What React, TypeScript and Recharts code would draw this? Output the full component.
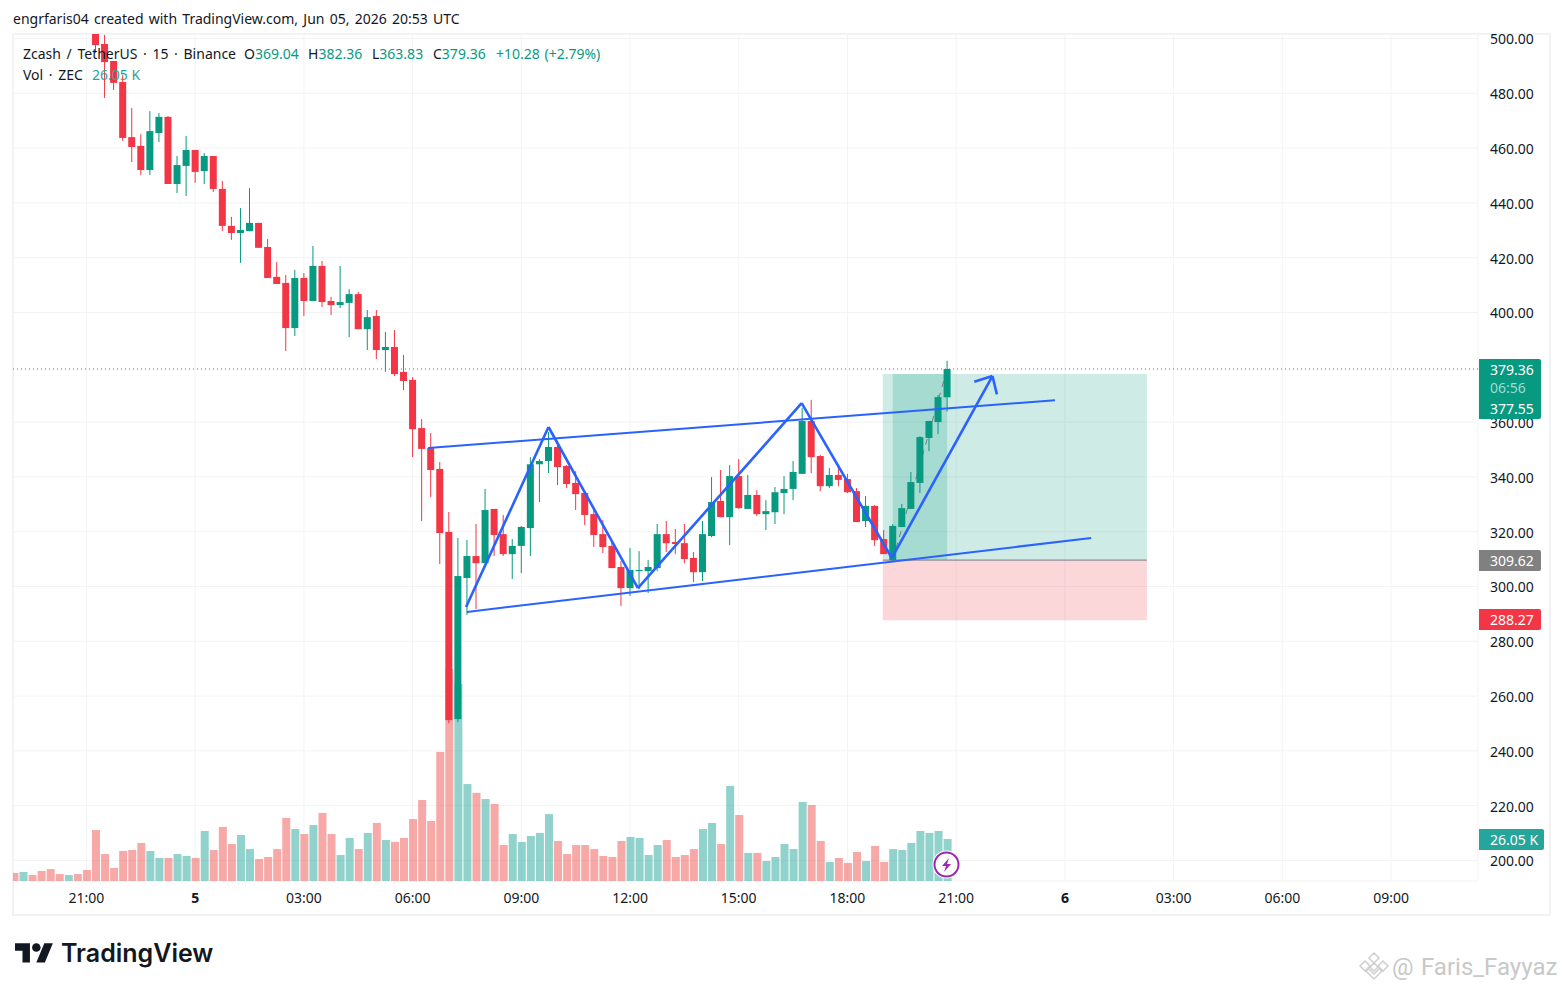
import React from 'react';
import {
  ComposedChart,
  Bar,
  XAxis,
  YAxis,
  CartesianGrid,
  ReferenceLine,
  ReferenceArea,
} from 'recharts';

const UP = '#089981';
const DOWN = '#F23645';
const BLUE = '#2962FF';
const FONT = '"Noto Sans", sans-serif';

// candles start at bar 1, bars -8..0 sit above the visible pane
const opens = [
  503.1, 498.0, 491.8, 484.1, 464.0, 460.8, 452.0, 465.5, 471.4, 446.9, 453.5, 459.3, 451.6, 457.1, 445.1, 431.6,
  429.0, 429.7, 432.7, 423.9, 413.0, 410.8, 394.3, 412.6, 404.2, 417.0, 404.2, 402.7, 403.5, 406.7, 393.9, 398.7,
  386.3, 387.4, 378.3, 375.4, 357.8, 350.5, 342.9, 319.9, 251.6, 303.1, 311.1, 308.5, 328.3, 319.1, 311.8, 314.8,
  321.3, 344.6, 345.8, 350.9, 344.0, 337.8, 334.1, 326.4, 319.1, 314.8, 307.1, 299.4, 305.6, 305.6, 306.7, 319.1,
  316.2, 315.8, 310.4, 305.2, 318.4, 331.2, 325.3, 340.3, 328.3, 333.4, 326.4, 327.1, 334.1, 335.6, 341.1, 360.4,
  347.6, 336.6, 340.7, 339.2, 334.8, 323.9, 329.4, 317.3, 309.6, 321.7, 328.3, 337.8, 354.2, 360.0, 369.04,
];
const highs = [
  510.0, 501.3, 491.8, 486.7, 474.6, 465.1, 473.5, 472.8, 471.7, 457.1, 464.4, 459.3, 458.2, 457.1, 448.0, 434.9,
  438.1, 445.4, 432.7, 426.8, 418.4, 413.7, 415.5, 414.4, 424.3, 418.8, 405.7, 417.0, 408.5, 407.5, 400.9, 400.9,
  392.9, 393.6, 384.5, 376.4, 361.1, 356.0, 345.4, 327.2, 317.7, 317.0, 322.8, 335.6, 328.3, 326.1, 317.3, 322.1,
  347.2, 346.5, 356.4, 353.1, 344.3, 342.1, 334.1, 327.9, 324.3, 316.2, 309.3, 314.1, 312.9, 309.7, 322.8, 323.9,
  321.0, 322.8, 312.6, 323.9, 339.9, 342.5, 344.3, 346.5, 340.7, 335.2, 331.5, 336.3, 340.3, 345.8, 365.1, 368.1,
  348.0, 343.2, 344.0, 341.1, 335.9, 333.0, 329.7, 320.6, 322.8, 330.1, 341.8, 354.9, 360.4, 369.9, 382.36,
];
const lows = [
  494.7, 478.3, 481.2, 462.6, 454.9, 450.2, 450.2, 462.2, 446.9, 443.6, 442.5, 447.3, 446.9, 444.0, 429.7, 426.5,
  418.1, 429.7, 423.6, 412.6, 410.4, 385.9, 391.4, 398.7, 404.2, 402.0, 399.1, 401.6, 391.0, 393.9, 386.3, 383.0,
  378.3, 376.8, 371.7, 347.2, 323.9, 332.6, 308.2, 250.1, 250.5, 289.6, 291.8, 308.5, 311.1, 311.1, 302.7, 304.9,
  311.1, 330.8, 341.4, 337.0, 335.9, 327.9, 322.4, 314.4, 312.2, 306.7, 292.9, 296.5, 299.0, 297.6, 305.6, 312.6,
  311.8, 308.5, 301.6, 302.0, 318.0, 325.3, 315.1, 328.3, 328.3, 325.7, 320.6, 322.8, 326.4, 331.5, 341.1, 341.4,
  334.8, 335.9, 336.6, 334.1, 323.5, 321.7, 314.8, 311.8, 308.9, 321.7, 328.3, 334.1, 349.4, 355.6, 363.83,
];
const closes = [
  497.6, 491.4, 483.8, 463.7, 460.4, 452.0, 466.2, 471.4, 446.9, 453.8, 459.3, 451.3, 457.1, 445.1, 431.6, 429.0,
  430.1, 432.7, 423.6, 412.6, 410.4, 394.3, 412.6, 404.2, 417.0, 403.8, 402.7, 403.8, 406.7, 393.9, 398.3, 386.3,
  387.4, 377.5, 375.0, 357.4, 350.2, 342.5, 319.5, 251.2, 303.8, 311.1, 308.5, 327.9, 318.8, 311.8, 314.8, 321.7,
  344.6, 345.8, 350.9, 343.6, 337.4, 333.7, 326.1, 318.8, 314.4, 306.7, 299.4, 306.0, 306.0, 307.1, 319.1, 315.8,
  315.5, 310.0, 305.2, 319.1, 330.8, 325.3, 340.3, 328.6, 333.4, 326.4, 327.5, 334.4, 335.6, 341.8, 360.4, 347.2,
  336.6, 340.7, 338.9, 334.4, 323.5, 329.4, 316.9, 311.8, 322.1, 328.6, 338.1, 354.5, 360.4, 369.1, 379.36,
];

// volume in thousands, bars -8..95
const volumes = [
  5.0, 5.6, 3.7, 6.2, 7.4, 4.3, 3.7, 4.3, 6.8,
  31.6, 16.7, 8.1, 18.6, 19.2, 23.6, 18.6, 14.3, 14.3, 16.7, 15.5, 14.3, 31.0, 19.2, 33.5, 22.9,
  28.5, 19.8, 13.6, 14.9, 19.8, 39.1, 32.2, 29.1, 34.7, 42.2, 29.1, 16.1, 26.7, 19.8, 29.8, 36.0,
  25.4, 24.2, 26.7, 38.4, 50.2, 37.2, 80.0, 131.4, 122.1, 60.1, 54.6, 50.8, 47.7, 22.3, 29.1, 24.2,
  27.9, 29.8, 41.5, 24.8, 16.7, 22.3, 22.3, 19.8, 15.5, 14.9, 24.8, 27.3, 26.7, 16.1, 22.3, 25.4,
  14.9, 16.1, 19.8, 32.2, 36.0, 22.9, 58.9, 40.9, 17.4, 17.4, 12.4, 14.9, 22.9, 19.8, 49.0, 47.1,
  24.8, 11.8, 14.3, 11.2, 18.0, 12.4, 21.7, 11.8, 19.8, 19.2, 23.6, 31.0, 29.8, 31.0, 26.05,
];
const hiddenBarsUp = [false, true, false, false, false, false, true, false, false];

const priceTicks = [200, 220, 240, 260, 280, 300, 320, 340, 360, 400, 420, 440, 460, 480, 500];
const timeTicks = [0, 12, 24, 36, 48, 60, 72, 84, 96, 108, 120, 132, 144];
const timeLabels = ['21:00', '5', '03:00', '06:00', '09:00', '12:00', '15:00', '18:00', '21:00', '6', '03:00', '06:00', '09:00'];

// drawings, bar number and price
const zigzagBars = [41.9, 51, 60.87, 78.94, 88.9, 100];
const zigzagPrices = [292.5, 358.2, 299.4, 366.9, 310.4, 376.8];
const arrowBars = [98, 100.5];
const arrowPrices = [374.7, 370.1];
const upperChannel = [[37.7, 350.5], [106.9, 368.0]];
const lowerChannel = [[42, 290.7], [110.9, 317.7]];
const lastClose = 379.36;
const target = 377.55;
const entry = 309.62;
const stopEdge = 287.7;

const timeDomain = [-8.11, 153.6];
const priceDomain = [192.5, 501.64];

const rows = volumes.map((volume, i) => {
  const bar = i - 8;
  const c = bar - 1;
  const hasCandle = c >= 0;
  return {
    bar,
    volume,
    open: hasCandle ? opens[c] : null,
    close: hasCandle ? closes[c] : null,
    high: hasCandle ? highs[c] : null,
    low: hasCandle ? lows[c] : null,
    range: hasCandle ? [lows[c], highs[c]] : null,
    up: hasCandle ? closes[c] >= opens[c] : hiddenBarsUp[i],
  };
});

const Candle = (props: any) => {
  const { x, y, width, height, payload } = props;
  if (!payload || payload.high == null) return null;
  const perUnit = height / (payload.high - payload.low);
  const top = y + (payload.high - Math.max(payload.open, payload.close)) * perUnit;
  const bodyH = Math.max(1, Math.abs(payload.open - payload.close) * perUnit);
  const color = payload.up ? UP : DOWN;
  const mid = x + width / 2;
  return (
    <g>
      <rect x={mid - 0.5} y={y} width={1} height={height} fill={color} />
      <rect x={mid - 3.5} y={top} width={7} height={bodyH} fill={color} />
    </g>
  );
};

const VolumeBar = (props: any) => {
  const { x, y, width, height, payload } = props;
  return (
    <rect
      x={x}
      y={y}
      width={width}
      height={height}
      fill={payload.up ? 'rgba(38,166,154,0.5)' : 'rgba(239,83,80,0.5)'}
    />
  );
};

const TimeTick = (props: any) => {
  const { x, y, payload } = props;
  const label = timeLabels[timeTicks.indexOf(payload.value)];
  const day = label.length === 1;
  return (
    <text x={x} y={y} dy={4} textAnchor="middle" fontFamily={FONT} fontSize={14} fontWeight={day ? 700 : 400} fill="#131722">
      {label}
    </text>
  );
};

const Txt = ({ x, y, color = '#131722', size = 14, children, style }: any) => (
  <div
    style={{
      position: 'absolute',
      left: x,
      top: y,
      color,
      fontSize: size,
      lineHeight: '20px',
      whiteSpace: 'nowrap',
      fontFamily: FONT,
      ...style,
    }}
  >
    {children}
  </div>
);

const Tag = ({ top, height = 21, width = 62, bg, children }: any) => (
  <div
    style={{
      position: 'absolute',
      left: 1479,
      top,
      width,
      height,
      background: bg,
      color: '#fff',
      fontFamily: FONT,
      fontSize: 14,
      lineHeight: height + 'px',
      paddingLeft: 11,
      boxSizing: 'border-box',
      borderRadius: '0 2px 2px 0',
    }}
  >
    {children}
  </div>
);

const layer = { position: 'absolute', left: 0, top: 0 } as const;

const App = () => {
  return (
    <div style={{ position: 'absolute', left: 0, top: 0, width: 1563, height: 991, background: '#fff', overflow: 'hidden' }}>
      <div style={{ position: 'absolute', left: 12, top: 33, width: 1535, height: 879, border: '2px solid #f1f2f4' }} />

      {/* back layer: axes, grid, position zones, volume */}
      <div style={layer}>
        <ComposedChart width={1563} height={991} data={rows} margin={{ top: 34, right: 13, left: 13, bottom: 76 }}>
          <CartesianGrid stroke="#f2f3f4" xAxisId="time" yAxisId="price" />
          <XAxis
            xAxisId="time"
            dataKey="bar"
            type="number"
            scale="linear"
            domain={timeDomain}
            allowDataOverflow
            ticks={timeTicks}
            interval={0}
            height={34}
            axisLine={false}
            tickLine={false}
            tickMargin={12}
            tick={<TimeTick />}
          />
          <YAxis
            yAxisId="price"
            orientation="right"
            type="number"
            domain={priceDomain}
            allowDataOverflow
            ticks={priceTicks}
            interval={0}
            width={72}
            axisLine={false}
            tickLine={false}
            tickSize={0}
            tickMargin={12}
            tickFormatter={(v: number) => v.toFixed(2)}
            tick={{ fontFamily: FONT, fontSize: 14, fill: '#131722', textAnchor: 'start', dy: 1 }}
          />
          <YAxis yAxisId="vol" hide domain={[0, 525]} />

          <ReferenceArea xAxisId="time" yAxisId="price" x1={87.9} x2={117.05} y1={entry} y2={target} fill={UP} fillOpacity={0.2} stroke="none" />
          <ReferenceArea xAxisId="time" yAxisId="price" x1={87.9} x2={117.05} y1={stopEdge} y2={entry} fill={DOWN} fillOpacity={0.2} stroke="none" />
          <ReferenceArea xAxisId="time" yAxisId="price" x1={89} x2={95} y1={entry} y2={target} fill={UP} fillOpacity={0.2} stroke="none" />
          <ReferenceLine
            xAxisId="time"
            yAxisId="price"
            segment={[{ x: 87.9, y: entry }, { x: 117.05, y: entry }]}
            stroke="#787B86"
            strokeWidth={1}
          />
          <ReferenceLine
            xAxisId="time"
            yAxisId="price"
            segment={[{ x: 89, y: entry }, { x: 95, y: lastClose }]}
            stroke="#787B86"
            strokeWidth={1}
            strokeDasharray="6 6"
          />
          <ReferenceLine xAxisId="time" yAxisId="price" y={lastClose} stroke={UP} strokeWidth={1} strokeDasharray="1 3" />

          <Bar xAxisId="time" yAxisId="vol" dataKey="volume" barSize={8} shape={<VolumeBar />} isAnimationActive={false} />
        </ComposedChart>
      </div>

      {/* front layer: candles and the hand drawn lines, same plot box */}
      <div style={layer}>
        <ComposedChart width={1563} height={991} data={rows} margin={{ top: 34, right: 85, left: 13, bottom: 110 }}>
          <XAxis xAxisId="time" dataKey="bar" type="number" scale="linear" domain={timeDomain} allowDataOverflow hide />
          <YAxis yAxisId="price" type="number" domain={priceDomain} allowDataOverflow hide />

          <Bar xAxisId="time" yAxisId="price" dataKey="range" barSize={7} shape={<Candle />} isAnimationActive={false} />

          <ReferenceLine
            xAxisId="time"
            yAxisId="price"
            segment={[{ x: upperChannel[0][0], y: upperChannel[0][1] }, { x: upperChannel[1][0], y: upperChannel[1][1] }]}
            stroke={BLUE}
            strokeWidth={2}
          />
          <ReferenceLine
            xAxisId="time"
            yAxisId="price"
            segment={[{ x: lowerChannel[0][0], y: lowerChannel[0][1] }, { x: lowerChannel[1][0], y: lowerChannel[1][1] }]}
            stroke={BLUE}
            strokeWidth={2}
          />
          {zigzagBars.slice(1).map((b, i) => (
            <ReferenceLine
              key={b}
              xAxisId="time"
              yAxisId="price"
              segment={[{ x: zigzagBars[i], y: zigzagPrices[i] }, { x: b, y: zigzagPrices[i + 1] }]}
              stroke={BLUE}
              strokeWidth={2.6}
            />
          ))}
          {arrowBars.map((b, i) => (
            <ReferenceLine
              key={b}
              xAxisId="time"
              yAxisId="price"
              segment={[{ x: b, y: arrowPrices[i] }, { x: 100, y: 376.8 }]}
              stroke={BLUE}
              strokeWidth={2.6}
            />
          ))}
        </ComposedChart>
      </div>

      <Txt x={13} y={9} style={{ wordSpacing: 1.6 }}>engrfaris04 created with TradingView.com, Jun 05, 2026 20:53 UTC</Txt>
      <Txt x={23} y={44} style={{ wordSpacing: 2 }}>Zcash / TetherUS · 15 · Binance</Txt>
      <Txt x={244} y={44}>O<span style={{ color: UP }}>369.04</span></Txt>
      <Txt x={308} y={44}>H<span style={{ color: UP }}>382.36</span></Txt>
      <Txt x={372} y={44}>L<span style={{ color: UP }}>363.83</span></Txt>
      <Txt x={433} y={44}>C<span style={{ color: UP }}>379.36</span></Txt>
      <Txt x={496} y={44} color={UP} style={{ wordSpacing: 1 }}>+10.28 (+2.79%)</Txt>
      <Txt x={23} y={65} style={{ wordSpacing: 2 }}>Vol · ZEC</Txt>
      <Txt x={92} y={65} color="#26A69A">26.05 K</Txt>

      <div style={{ position: 'absolute', left: 1479, top: 359, width: 62, height: 60, background: UP, borderRadius: '0 2px 2px 0' }} />
      <Txt x={1490} y={360} color="#fff">379.36</Txt>
      <Txt x={1490} y={378} color="#9fdcd0">06:56</Txt>
      <Txt x={1490} y={399} color="#fff">377.55</Txt>
      <Tag top={550} bg="#808080">309.62</Tag>
      <Tag top={609} bg={DOWN}>288.27</Tag>
      <Tag top={829} width={65} bg="#26A69A">26.05 K</Tag>

      <svg style={{ position: 'absolute', left: 932, top: 850 }} width={29} height={29}>
        <circle cx={14.5} cy={14.5} r={14} fill="#fff" />
        <circle cx={14.5} cy={14.5} r={12} fill="#fff" stroke="#9C27B0" strokeWidth={2} />
        <path d="M17 8l-7 8h4l-2 6 7-8h-4z" fill="#9C27B0" />
      </svg>

      <svg style={{ position: 'absolute', left: 15, top: 939 }} width={40} height={26} viewBox="0 0 37.5 24.4">
        <path d="M14 22H7V11H0V4h14v18zM28 22h-8l7.5-18h8L28 22z" fill="#131722" />
        <circle cx="20" cy="8" r="4" fill="#131722" />
      </svg>
      <Txt x={61} y={942} size={25} style={{ fontFamily: 'Inter, sans-serif', fontWeight: 600, lineHeight: '22px', color: '#131722' }}>TradingView</Txt>

      <svg style={{ position: 'absolute', left: 1359, top: 951 }} width={30} height={30} viewBox="0 0 30 30">
        <path d="M15 2l5 5-5 5-5-5zM6 10l5 5-5 5-5-5zM24 10l5 5-5 5-5-5zM15 12l4 4-4 4-4-4zM15 28l-8-8 3-2 5 5 5-5 3 2z" fill="none" stroke="#cfcfcf" strokeWidth={1.5} />
      </svg>
      <Txt x={1392} y={956} size={24} color="#c8c8c8" style={{ fontFamily: 'Roboto, sans-serif', lineHeight: '22px' }}>@</Txt>
      <Txt x={1421} y={956} size={24} color="#c8c8c8" style={{ fontFamily: 'Roboto, sans-serif', lineHeight: '22px' }}>Faris_Fayyaz</Txt>
    </div>
  );
};

export default App;
